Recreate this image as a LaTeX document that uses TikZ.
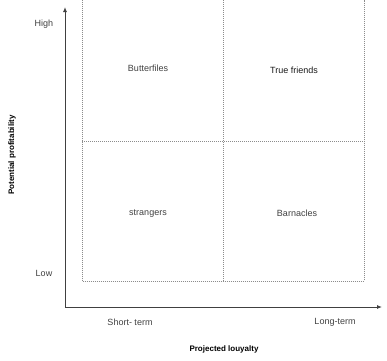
\documentclass[tikz,border=0pt]{standalone}
\usepackage{fontspec}
\setmainfont{Liberation Sans}
\usetikzlibrary{arrows.meta}
\begin{document}
\begin{tikzpicture}[x=1pt,y=-1pt,
  grid/.style={draw=black!45,line width=0.8pt,dash pattern=on 1pt off 1pt},
  axis/.style={draw=black!75,line width=0.9pt,-{Latex[length=5pt,width=4pt]}},
  lbl/.style={font=\fontsize{9}{11}\selectfont,text=black!75},
  ttl/.style={font=\bfseries\fontsize{8}{9}\selectfont,text=black}]
\useasboundingbox (0,0) rectangle (387,360);
\coordinate (o) at (65,307);
\coordinate (ytop) at (65,7);
\coordinate (xend) at (382,307);
\begin{scope}
\clip (0,0) rectangle (387,360);
\draw[grid] (82,-0.3) rectangle (364,281);
\end{scope}
\draw[grid] (223,0) -- (223,281);
\draw[grid] (82,141) -- (364,141);
\draw[axis] (o) -- (ytop);
\draw[axis] (o) -- (xend);
\node[lbl] (high) at (44,24) {High};
\node[lbl] (low) at (44,273) {Low};
\node[lbl] (bf) at (148,68) {Butterfiles};
\node[lbl,text=black!90] (tf) at (294,70) {True friends};
\node[lbl] (st) at (148,214) {strangers};
\node[lbl] (ba) at (297,213) {Barnacles};
\node[lbl] (short) at (130,322) {Short- term};
\node[lbl] (long) at (335,322) {Long-term};
\node[ttl] (xl) at (224,349) {Projected louyalty};
\node[ttl,rotate=90] (yl) at (12,155) {Potential profitability};
\end{tikzpicture}
\end{document}
